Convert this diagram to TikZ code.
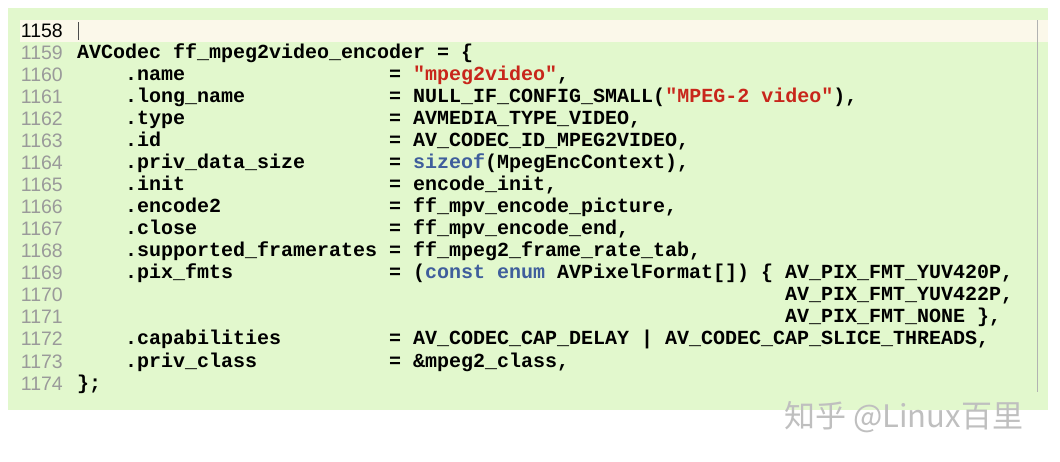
\documentclass[tikz,border=0pt]{standalone}
\usepackage{fontspec}
\setmonofont{Liberation Mono}
\setsansfont{Liberation Sans}
\newfontfamily\cjk{Noto Sans CJK SC}
\definecolor{bgg}{HTML}{E2F8CD}
\definecolor{hl}{HTML}{FBF8EA}
\definecolor{str}{HTML}{C8261B}
\definecolor{kw}{HTML}{3F5E9C}
\definecolor{ln}{HTML}{9A9A9A}
\begin{document}
\begin{tikzpicture}[x=1pt,y=-1pt,
  code/.style={anchor=base west,inner sep=0pt,font=\fontsize{20}{22}\ttfamily\bfseries},
  num/.style={anchor=base east,inner sep=0pt,font=\fontsize{19.5}{22}\sffamily,text=ln}]
\useasboundingbox (0,0) rectangle (1060,461);
\fill[white] (0,0) rectangle (1060,461);
\fill[bgg] (8,8) rectangle (1048,410);
\fill[hl] (20,20) rectangle (1048,42);
\draw[black!30,line width=0.6pt] (1037,20) -- (1037,392);
\draw[black!70,line width=0.8pt] (78,22) -- (78,40);
\foreach \n in {0,...,16}{
  \pgfmathtruncatemacro\ln{1158+\n}
  \pgfmathsetmacro\yy{37+\n*22.07}
  \ifnum\n=0
   \node[num,text=black] (n\n) at (63,\yy) {\ln};
  \else
   \node[num] (n\n) at (63,\yy) {\ln};
  \fi
}
\newcommand\cl[3]{\pgfmathsetmacro\xx{77+12*#1}\pgfmathsetmacro\yy{36+#2*22.07}\node[code] at (\xx,\yy) {#3};}
\cl{0}{1}{AVCodec ff\_mpeg2video\_encoder = \{}
\cl{4}{2}{.name}
\cl{26}{2}{= \textcolor{str}{"mpeg2video"},}
\cl{4}{3}{.long\_name}
\cl{26}{3}{= NULL\_IF\_CONFIG\_SMALL(\textcolor{str}{"MPEG-2 video"}),}
\cl{4}{4}{.type}
\cl{26}{4}{= AVMEDIA\_TYPE\_VIDEO,}
\cl{4}{5}{.id}
\cl{26}{5}{= AV\_CODEC\_ID\_MPEG2VIDEO,}
\cl{4}{6}{.priv\_data\_size}
\cl{26}{6}{= \textcolor{kw}{sizeof}(MpegEncContext),}
\cl{4}{7}{.init}
\cl{26}{7}{= encode\_init,}
\cl{4}{8}{.encode2}
\cl{26}{8}{= ff\_mpv\_encode\_picture,}
\cl{4}{9}{.close}
\cl{26}{9}{= ff\_mpv\_encode\_end,}
\cl{4}{10}{.supported\_framerates}
\cl{26}{10}{= ff\_mpeg2\_frame\_rate\_tab,}
\cl{4}{11}{.pix\_fmts}
\cl{26}{11}{= (\textcolor{kw}{const enum} AVPixelFormat[]) \{ AV\_PIX\_FMT\_YUV420P,}
\cl{59}{12}{AV\_PIX\_FMT\_YUV422P,}
\cl{59}{13}{AV\_PIX\_FMT\_NONE \},}
\cl{4}{14}{.capabilities}
\cl{26}{14}{= AV\_CODEC\_CAP\_DELAY | AV\_CODEC\_CAP\_SLICE\_THREADS,}
\cl{4}{15}{.priv\_class}
\cl{26}{15}{= \&mpeg2\_class,}
\cl{0}{16}{\};}
\node[anchor=base west,inner sep=0pt,font=\fontsize{31}{32}\cjk,text=black!25] (wm) at (784,427) {知乎 @Linux百里};
\end{tikzpicture}
\end{document}
